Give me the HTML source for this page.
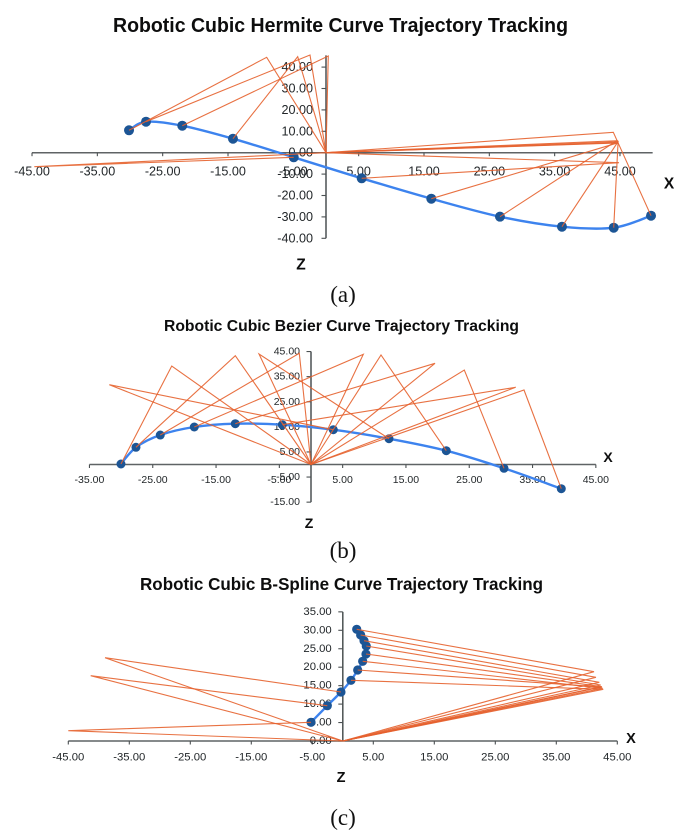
<!DOCTYPE html>
<html lang="en">
<head>
<meta charset="utf-8">
<title>Robotic Cubic Curve Trajectory Tracking</title>
<style>
html,body{margin:0;padding:0;background:#fff;width:685px;height:832px;overflow:hidden}
svg{display:block}
text{font-family:"Liberation Sans",sans-serif}
.tick{fill:#23282a}
.title{font-weight:bold;fill:#0b0e10}
.axname{font-weight:bold;fill:#0b0e10}
.cap{font-family:"Liberation Serif",serif;font-size:23px;fill:#111}
</style>
</head>
<body>
<svg id="fig" width="685" height="832" viewBox="0 0 685 832" xmlns="http://www.w3.org/2000/svg">
  <defs><filter id="soft" x="-5%" y="-5%" width="110%" height="110%"><feGaussianBlur stdDeviation="0.3"/></filter></defs>
  <text class="cap" x="343" y="302" text-anchor="middle">(a)</text>
  <text class="cap" x="343" y="558" text-anchor="middle">(b)</text>
  <text class="cap" x="343" y="825" text-anchor="middle">(c)</text>
</svg>
<script>
// Chart A: Hermite
const hermiteX = [-30.15,-27.55,-22.0,-14.24,-4.94,5.46,16.12,26.63,36.12,44.04,49.75];
const hermiteY = [10.47,14.49,12.62,6.54,-2.15,-11.96,-21.5,-29.9,-34.58,-35.05,-29.44];
const hermiteElbowX = [-9.08,-2.45,0.35,-4.33,-44.65,44.85,44.74,44.5,44.7,44.7,43.98];
const hermiteElbowY = [44.58,45.65,45.19,44.86,-6.54,-4.67,4.67,5.6,5.14,4.53,9.53];
const hermiteXTicks = [-45,-35,-25,-15,-5,5,15,25,35,45];
const hermiteYTicks = [40,30,20,10,0,-10,-20,-30,-40];
// Chart B: Bezier
const bezierX = [-30.02,-27.65,-23.81,-18.44,-11.96,-4.53,3.52,12.32,21.37,30.49,39.54];
const bezierY = [0.2,6.85,11.75,14.94,16.25,15.86,13.86,10.28,5.5,-1.51,-9.64];
const bezierElbowX = [-22.0,-11.96,-1.85,8.26,19.59,32.34,-31.86,-8.21,11.06,24.22,33.65];
const bezierElbowY = [39.24,43.35,44.3,43.9,40.32,30.76,31.79,44.02,43.63,37.65,29.68];
const bezierXTicks = [-35,-25,-15,-5,5,15,25,35,45];
const bezierYTicks = [45,35,25,15,5,-5,-15];
// Chart C: B-Spline
const splineX = [-5.21,-2.54,-0.3,1.34,2.44,3.26,3.8,3.85,3.48,2.93,2.28];
const splineY = [5.07,9.57,13.28,16.45,19.24,21.6,23.58,25.75,27.18,28.73,30.27];
const splineElbowX = [-45,-41.33,-38.98,42.7,42.49,42.6,42.44,42.28,42.05,41.5,41.18];
const splineElbowY = [2.79,17.7,22.57,14.0,14.63,14.28,14.72,15.18,15.9,17.26,18.78];
const splineXTicks = [-45,-35,-25,-15,-5,5,15,25,35,45];
const splineYTicks = [35,30,25,20,15,10,5,0];

const NS = 'http://www.w3.org/2000/svg';
const fig = document.getElementById('fig');

function mk(tag, parent, attrs) {
  const el = document.createElementNS(NS, tag);
  for (const k in attrs) el.setAttribute(k, attrs[k]);
  parent.appendChild(el);
  return el;
}

function smoothPath(pts) {
  let d = 'M' + pts[0][0] + ' ' + pts[0][1];
  for (let i = 0; i < pts.length - 1; i++) {
    const p0 = pts[Math.max(i - 1, 0)], p1 = pts[i], p2 = pts[i + 1], p3 = pts[Math.min(i + 2, pts.length - 1)];
    const c1x = p1[0] + (p2[0] - p0[0]) / 6, c1y = p1[1] + (p2[1] - p0[1]) / 6;
    const c2x = p2[0] - (p3[0] - p1[0]) / 6, c2y = p2[1] - (p3[1] - p1[1]) / 6;
    d += ' C' + c1x + ' ' + c1y + ' ' + c2x + ' ' + c2y + ' ' + p2[0] + ' ' + p2[1];
  }
  return d;
}

function drawChart(c) {
  const sx = v => c.x0 + v * c.kx;
  const sy = v => c.y0 - v * c.ky;
  const g = mk('g', fig, {filter: 'url(#soft)'});
  
  

  const title = mk('text', g, {class: 'title', x: c.titleX, y: c.titleY, 'font-size': c.titleSize, textLength: c.titleLen, lengthAdjust: 'spacingAndGlyphs'});
  
  
  title.textContent = c.title;

  // axes
  const xAxis = mk('line', g, {x1: sx(c.xMin), x2: sx(c.xMax), y1: c.y0, y2: c.y0, stroke: '#5f6465', 'stroke-width': 1.5});
  
  
  const yAxis = mk('line', g, {x1: c.x0, x2: c.x0, y1: sy(c.yMin), y2: sy(c.yMax), stroke: '#4c5152', 'stroke-width': 1.5});
  
  

  c.xTicks.forEach(v => {
    const t = mk('line', g, {x1: sx(v), x2: sx(v), y1: c.y0, y2: c.y0 + 3.5, stroke: '#4c5152', 'stroke-width': 1.1});
    
    
    const l = mk('text', g, {class: 'tick', x: sx(v), y: c.xLabelY, 'font-size': c.tickSize, 'text-anchor': 'middle', 'dominant-baseline': 'central'});
    
    
    l.textContent = v.toFixed(2);
  });
  c.yTicks.forEach(v => {
    const t = mk('line', g, {x1: c.x0 - 4.5, x2: c.x0, y1: sy(v), y2: sy(v), stroke: '#4c5152', 'stroke-width': 1.1});
    
    
    const l = mk('text', g, {class: 'tick', x: c.yLabelX, y: sy(v), 'font-size': c.tickSize, 'text-anchor': 'end', 'dominant-baseline': 'central'});
    
    
    l.textContent = v.toFixed(2);
  });

  // trajectory curve
  const pts = c.px.map((v, i) => [sx(v), sy(c.py[i])]);
  const curve = mk('path', g, {d: smoothPath(pts), fill: 'none', stroke: '#3c83ee', 'stroke-width': 2.4, 'stroke-linecap': 'round'});
  
  

  // end-effector points
  pts.forEach(p => {
    const m = mk('circle', g, {cx: p[0], cy: p[1], r: c.r, fill: '#1f5595'});
    
    
  });

  // robot arm links: origin -> elbow -> end-effector
  pts.forEach((p, i) => {
    const ex = sx(c.ex[i]), ey = sy(c.ey[i]);
    const arm = mk('polyline', g, {points: sx(0) + ',' + sy(0) + ' ' + ex + ',' + ey + ' ' + p[0] + ',' + p[1], fill: 'none', stroke: '#e6622f', 'stroke-width': 1.1, 'stroke-opacity': 0.9});
    
    
  });

  const xn = mk('text', g, {class: 'axname', x: c.xNameX, y: c.xNameY, 'font-size': c.nameSize, 'text-anchor': 'middle', 'dominant-baseline': 'central'});
  
  
  xn.textContent = 'X';
  const zn = mk('text', g, {class: 'axname', x: c.zNameX, y: c.zNameY, 'font-size': c.nameSize, 'text-anchor': 'middle', 'dominant-baseline': 'central'});
  
  
  zn.textContent = 'Z';
}

drawChart({id: 'hermite', title: 'Robotic Cubic Hermite Curve Trajectory Tracking',
  titleX: 113, titleY: 32, titleSize: 20.5, titleLen: 455,
  x0: 326, kx: 6.533, y0: 152.7, ky: 2.14, xMin: -45, xMax: 50, yMin: -40, yMax: 45.5,
  xTicks: hermiteXTicks, yTicks: hermiteYTicks, px: hermiteX, py: hermiteY, ex: hermiteElbowX, ey: hermiteElbowY,
  tickSize: 12.6, xLabelY: 171.7, yLabelX: 313, r: 5,
  nameSize: 15.5, xNameX: 669, xNameY: 184, zNameX: 301, zNameY: 265});

drawChart({id: 'bezier', title: 'Robotic Cubic Bezier Curve Trajectory Tracking',
  titleX: 164, titleY: 331, titleSize: 16, titleLen: 355,
  x0: 311, kx: 6.33, y0: 464.5, ky: 2.51, xMin: -35, xMax: 45, yMin: -15, yMax: 45,
  xTicks: bezierXTicks, yTicks: bezierYTicks, px: bezierX, py: bezierY, ex: bezierElbowX, ey: bezierElbowY,
  tickSize: 10.5, xLabelY: 480, yLabelX: 300, r: 4.5,
  nameSize: 14, xNameX: 608, xNameY: 457, zNameX: 309, zNameY: 523});

drawChart({id: 'bspline', title: 'Robotic Cubic B-Spline Curve Trajectory Tracking',
  titleX: 140, titleY: 590, titleSize: 17.5, titleLen: 403,
  x0: 342.8, kx: 6.1, y0: 741, ky: 3.69, xMin: -45, xMax: 45, yMin: 0, yMax: 35,
  xTicks: splineXTicks, yTicks: splineYTicks, px: splineX, py: splineY, ex: splineElbowX, ey: splineElbowY,
  tickSize: 11.3, xLabelY: 757.7, yLabelX: 331.7, r: 4.6,
  nameSize: 14.5, xNameX: 631, xNameY: 739, zNameX: 341, zNameY: 778});
</script>
</body>
</html>
